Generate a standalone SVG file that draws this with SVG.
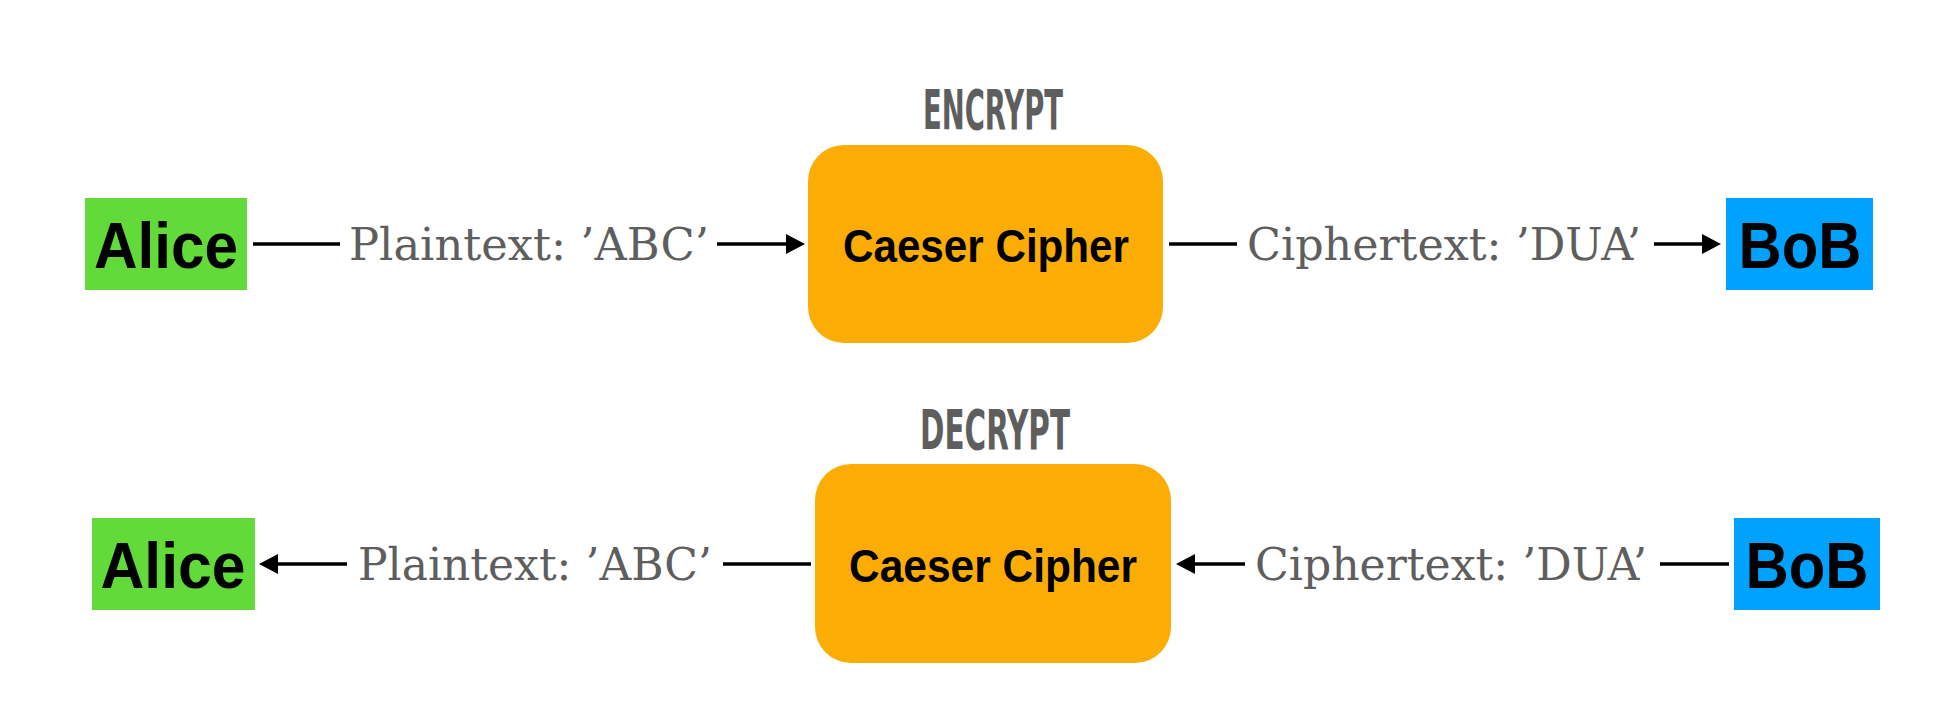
<svg xmlns="http://www.w3.org/2000/svg" width="1956" height="708" viewBox="0 0 1956 708">
<defs>
<style>
.alice{fill:#61da3a}
.bob{fill:#00a2ff}
.cipher{fill:#fcad05}
.who{font-family:"Liberation Sans",Arial,sans-serif;font-weight:bold;font-size:65px;fill:#000;text-anchor:middle}
.ctext{font-family:"Liberation Sans",Arial,sans-serif;font-weight:bold;font-size:46px;fill:#000;text-anchor:middle}
.title{font-family:"DejaVu Sans Condensed","DejaVu Sans",sans-serif;font-weight:bold;font-size:56px;fill:#5e5e5e;text-anchor:middle}
.lbl{font-family:"DejaVu Serif","Liberation Serif",serif;font-size:44px;fill:#5e5e5e;text-anchor:middle}
.edge{stroke:#000;stroke-width:3.6;fill:none}
</style>
<marker id="ah" markerUnits="userSpaceOnUse" markerWidth="20" markerHeight="22" refX="0" refY="10" orient="auto" viewBox="0 0 20 22">
<path d="M0,0 L19,10 L0,20 z" fill="#000"/>
</marker>
</defs>
<rect width="1956" height="708" fill="#fff"/>

<g id="connectors">
<line class="edge" x1="253" y1="244" x2="340" y2="244"/>
<line class="edge" x1="717" y1="244" x2="786" y2="244" marker-end="url(#ah)"/>
<line class="edge" x1="1169" y1="244" x2="1237" y2="244"/>
<line class="edge" x1="1654" y1="244" x2="1702" y2="244" marker-end="url(#ah)"/>
<line class="edge" x1="347" y1="564" x2="278" y2="564" marker-end="url(#ah)"/>
<line class="edge" x1="723" y1="564" x2="811" y2="564"/>
<line class="edge" x1="1245" y1="564" x2="1195" y2="564" marker-end="url(#ah)"/>
<line class="edge" x1="1660" y1="564" x2="1729" y2="564"/>
<text class="lbl" x="529" y="260" textLength="360" lengthAdjust="spacingAndGlyphs">Plaintext: ’ABC’</text>
<text class="lbl" x="1444" y="260" textLength="394" lengthAdjust="spacingAndGlyphs">Ciphertext: ’DUA’</text>
<text class="lbl" x="535" y="580" textLength="354" lengthAdjust="spacingAndGlyphs">Plaintext: ’ABC’</text>
<text class="lbl" x="1451" y="580" textLength="392" lengthAdjust="spacingAndGlyphs">Ciphertext: ’DUA’</text>
</g>

<g id="alice-top">
<rect class="alice" x="85" y="198" width="162" height="92"/>
<text class="who" x="166" y="268" textLength="144" lengthAdjust="spacingAndGlyphs">Alice</text>
</g>

<g id="cipher-encrypt">
<text class="title" x="993" y="129" textLength="140" lengthAdjust="spacingAndGlyphs">ENCRYPT</text>
<rect class="cipher" x="808" y="145" width="355" height="198" rx="36" ry="36"/>
<text class="ctext" x="986" y="262" textLength="286" lengthAdjust="spacingAndGlyphs">Caeser Cipher</text>
</g>

<g id="bob-top">
<rect class="bob" x="1726" y="198" width="147" height="92"/>
<text class="who" x="1800" y="268" textLength="123" lengthAdjust="spacingAndGlyphs">BoB</text>
</g>

<g id="alice-bottom">
<rect class="alice" x="92" y="518" width="163" height="92"/>
<text class="who" x="173" y="588" textLength="145" lengthAdjust="spacingAndGlyphs">Alice</text>
</g>

<g id="cipher-decrypt">
<text class="title" x="995" y="449" textLength="150" lengthAdjust="spacingAndGlyphs">DECRYPT</text>
<rect class="cipher" x="815" y="464" width="356" height="199" rx="36" ry="36"/>
<text class="ctext" x="993" y="582" textLength="288" lengthAdjust="spacingAndGlyphs">Caeser Cipher</text>
</g>

<g id="bob-bottom">
<rect class="bob" x="1734" y="518" width="146" height="92"/>
<text class="who" x="1807" y="588" textLength="123" lengthAdjust="spacingAndGlyphs">BoB</text>
</g>
</svg>
